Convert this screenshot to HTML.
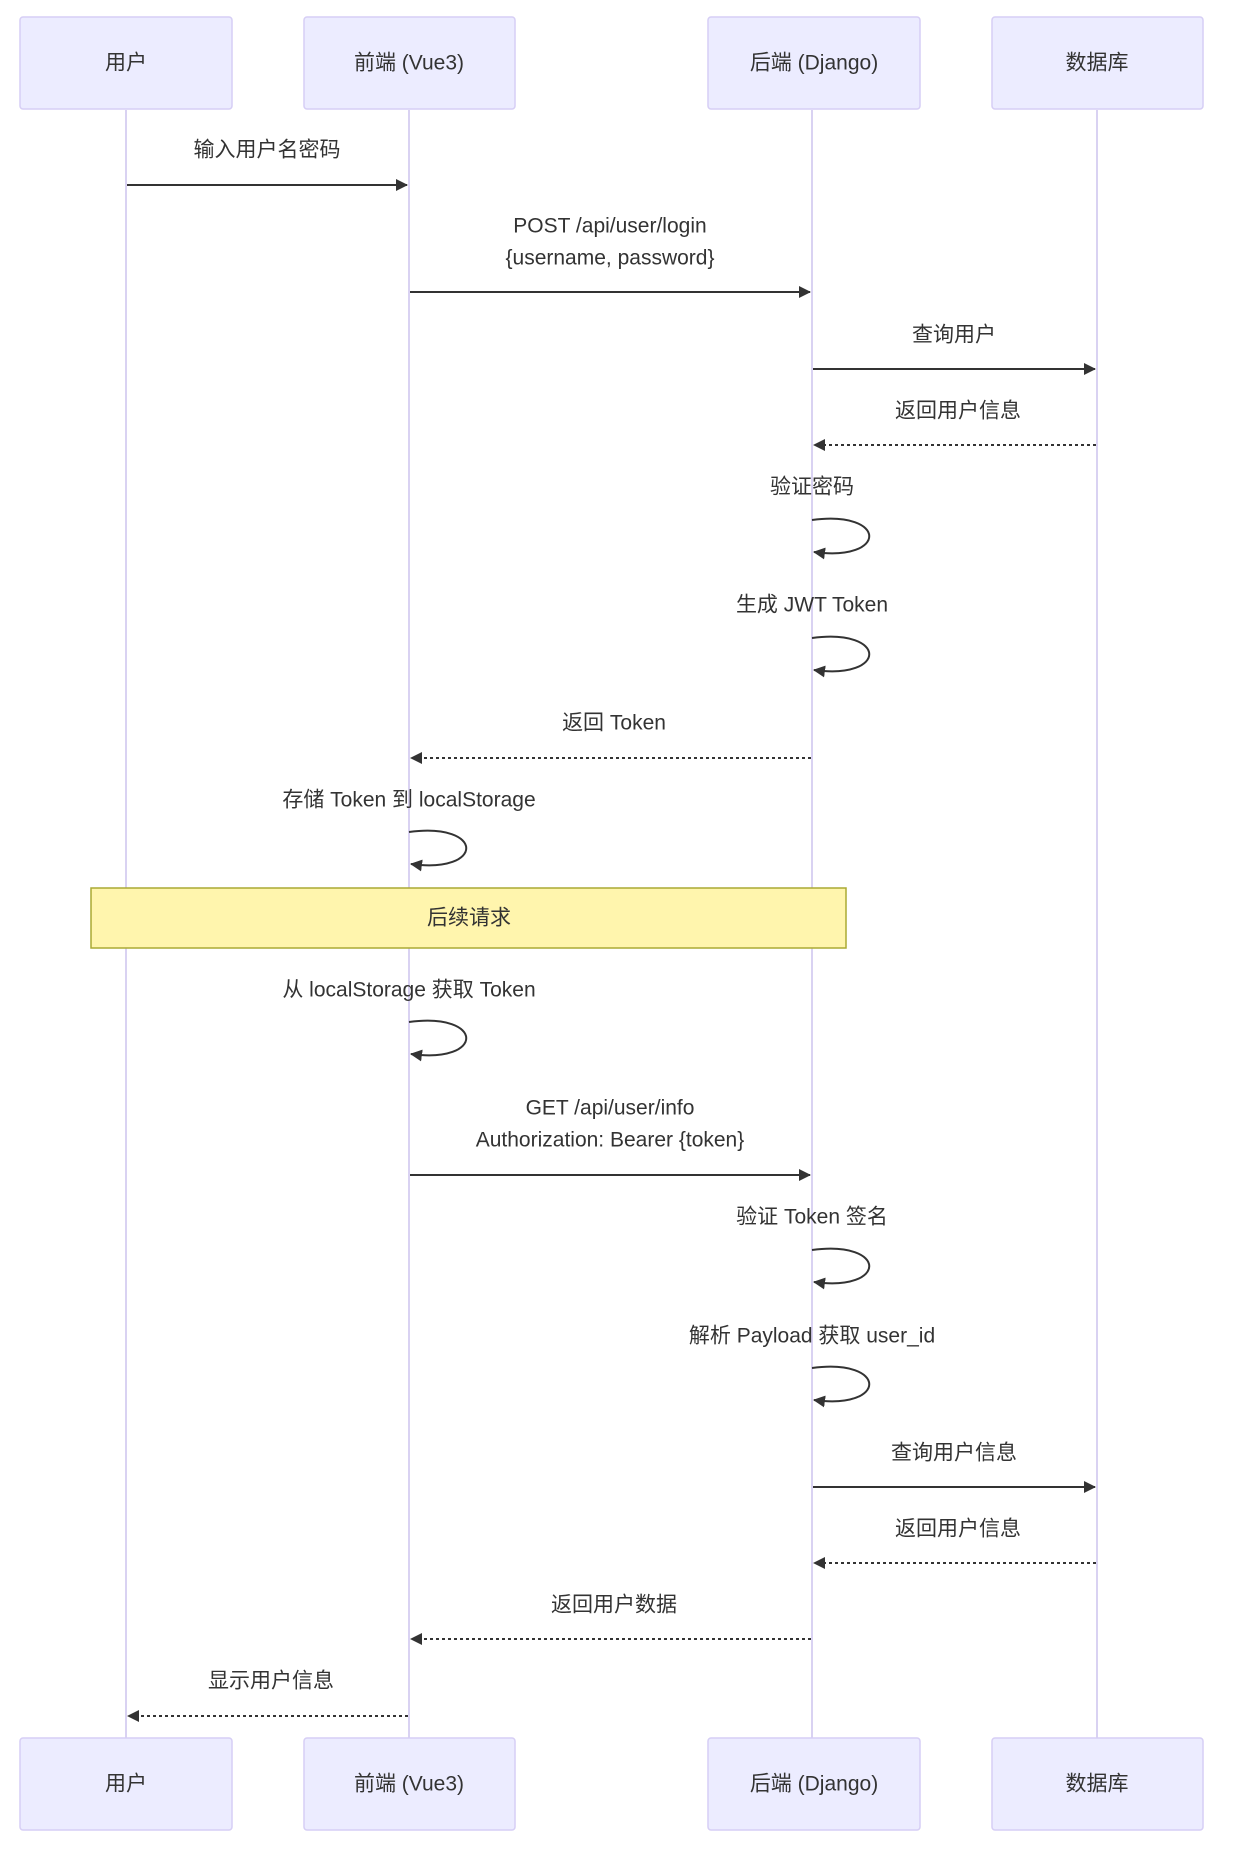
<!DOCTYPE html>
<html><head><meta charset="utf-8"><style>
html,body{margin:0;padding:0;background:#fff;}
svg text{font-family:"Liberation Sans","Noto Sans CJK SC",sans-serif;fill:#333;}
</style></head><body>
<svg width="1253" height="1856" viewBox="0 0 1253 1856" xmlns="http://www.w3.org/2000/svg">
<defs>
<marker id="ah" viewBox="0 0 12 12" refX="11" refY="6" markerWidth="12" markerHeight="12" markerUnits="userSpaceOnUse" orient="auto"><path d="M0,0 L12,6 L0,12 z" fill="#333"/></marker>
</defs>
<g stroke="#d9d2f2" stroke-width="2">
<line x1="126" y1="110" x2="126" y2="1738"/>
<line x1="409" y1="110" x2="409" y2="1738"/>
<line x1="812" y1="110" x2="812" y2="1738"/>
<line x1="1097" y1="110" x2="1097" y2="1738"/>
</g>
<g fill="#ececff" stroke="#d6cef5" stroke-width="1.5">
<rect x="20" y="17" width="212" height="92" rx="3"/>
<rect x="304" y="17" width="211" height="92" rx="3"/>
<rect x="708" y="17" width="212" height="92" rx="3"/>
<rect x="992" y="17" width="211" height="92" rx="3"/>
<rect x="20" y="1738" width="212" height="92" rx="3"/>
<rect x="304" y="1738" width="211" height="92" rx="3"/>
<rect x="708" y="1738" width="212" height="92" rx="3"/>
<rect x="992" y="1738" width="211" height="92" rx="3"/>
</g>
<g font-size="21" text-anchor="middle" dominant-baseline="central">
<text x="126" y="63">用户</text><text x="409" y="63">前端 (Vue3)</text><text x="814" y="63">后端 (Django)</text><text x="1097" y="63">数据库</text>
<text x="126" y="1784">用户</text><text x="409" y="1784">前端 (Vue3)</text><text x="814" y="1784">后端 (Django)</text><text x="1097" y="1784">数据库</text>
</g>
<rect x="91" y="888" width="755" height="60" fill="#fff5ad" stroke="#aaaa33" stroke-width="1.5"/>
<text x="469" y="918" font-size="21" text-anchor="middle" dominant-baseline="central">后续请求</text>
<g stroke="#333" stroke-width="2" fill="none" marker-end="url(#ah)">
<line x1="127" y1="185" x2="407" y2="185"/>
<line x1="410" y1="292" x2="810" y2="292"/>
<line x1="813" y1="369" x2="1095" y2="369"/>
<line x1="1096" y1="445" x2="814" y2="445" stroke-dasharray="3,3"/>
<path d="M812,520 C888,510 888,562 814,552"/>
<path d="M812,638 C888,628 888,680 814,670"/>
<line x1="811" y1="758" x2="411" y2="758" stroke-dasharray="3,3"/>
<path d="M409,832 C485,822 485,874 411,864"/>
<path d="M409,1022 C485,1012 485,1064 411,1054"/>
<line x1="410" y1="1175" x2="810" y2="1175"/>
<path d="M812,1250 C888,1240 888,1292 814,1282"/>
<path d="M812,1368 C888,1358 888,1410 814,1400"/>
<line x1="813" y1="1487" x2="1095" y2="1487"/>
<line x1="1096" y1="1563" x2="814" y2="1563" stroke-dasharray="3,3"/>
<line x1="811" y1="1639" x2="411" y2="1639" stroke-dasharray="3,3"/>
<line x1="408" y1="1716" x2="128" y2="1716" stroke-dasharray="3,3"/>
</g>
<g font-size="21" text-anchor="middle" dominant-baseline="central">
<text x="267" y="150">输入用户名密码</text>
<text x="610" y="226">POST /api/user/login</text>
<text x="610" y="258">{username, password}</text>
<text x="954" y="335">查询用户</text>
<text x="958" y="411">返回用户信息</text>
<text x="812" y="487">验证密码</text>
<text x="812" y="605">生成 JWT Token</text>
<text x="614" y="723">返回 Token</text>
<text x="409" y="800">存储 Token 到 localStorage</text>
<text x="409" y="990">从 localStorage 获取 Token</text>
<text x="610" y="1108">GET /api/user/info</text>
<text x="610" y="1140">Authorization: Bearer {token}</text>
<text x="812" y="1217">验证 Token 签名</text>
<text x="812" y="1336">解析 Payload 获取 user_id</text>
<text x="954" y="1453">查询用户信息</text>
<text x="958" y="1529">返回用户信息</text>
<text x="614" y="1605">返回用户数据</text>
<text x="271" y="1681">显示用户信息</text>
</g>
</svg>
</body></html>
